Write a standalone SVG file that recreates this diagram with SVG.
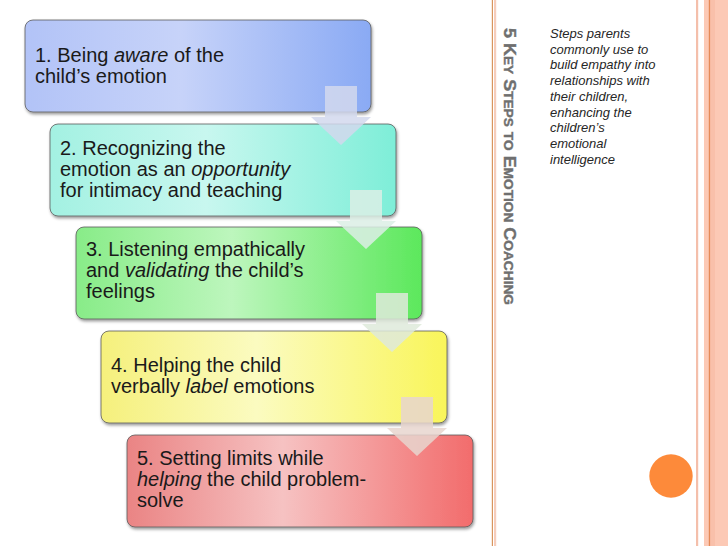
<svg xmlns="http://www.w3.org/2000/svg" width="728" height="546" viewBox="0 0 728 546">
<defs>
<style>
.box{stroke:#5a5a5a;stroke-width:0.8;filter:url(#sh)}
.bt{font-family:"Liberation Sans",Arial,sans-serif;font-size:20px;fill:#1a1a1a}
.side{font-family:"Liberation Sans",Arial,sans-serif;font-size:13px;font-style:italic;fill:#262626}
.arr{opacity:0.85}
</style>
<filter id="sh" x="-5%" y="-10%" width="110%" height="130%">
<feDropShadow dx="1" dy="2" stdDeviation="1.5" flood-color="#000" flood-opacity="0.4"/>
</filter>
<linearGradient id="g1" x1="0" y1="0" x2="1" y2="0">
<stop offset="0" stop-color="#b2c3f7"/><stop offset="0.45" stop-color="#c7d3f9"/><stop offset="1" stop-color="#8aaaf4"/>
</linearGradient>
<linearGradient id="g2" x1="0" y1="0" x2="1" y2="0">
<stop offset="0" stop-color="#a3f1e2"/><stop offset="0.45" stop-color="#c8f7ef"/><stop offset="1" stop-color="#7eeed8"/>
</linearGradient>
<linearGradient id="g3" x1="0" y1="0" x2="1" y2="0">
<stop offset="0" stop-color="#88ec88"/><stop offset="0.45" stop-color="#bdf6bd"/><stop offset="1" stop-color="#5ce85c"/>
</linearGradient>
<linearGradient id="g4" x1="0" y1="0" x2="1" y2="0">
<stop offset="0" stop-color="#f5f07c"/><stop offset="0.45" stop-color="#fbfbc0"/><stop offset="1" stop-color="#f9f55a"/>
</linearGradient>
<linearGradient id="g5" x1="0" y1="0" x2="1" y2="0">
<stop offset="0" stop-color="#ea8484"/><stop offset="0.45" stop-color="#f6c2c2"/><stop offset="1" stop-color="#f26c6c"/>
</linearGradient>
</defs>
<rect width="728" height="546" fill="#fff"/>

<!-- decorative borders -->
<rect x="491.8" y="0" width="1.2" height="546" fill="#d8955e"/>
<rect x="494" y="0" width="2.2" height="546" fill="#f6cdbb"/>
<rect x="696" y="0" width="2.2" height="546" fill="#f4bfab"/>
<rect x="704" y="0" width="24" height="546" fill="#fcc9b5"/>
<rect x="710" y="0" width="5" height="546" fill="#f9c0aa"/>
<rect x="708.8" y="0" width="1.3" height="546" fill="#e58a58"/>
<circle cx="671" cy="476" r="21.7" fill="#fd8a3a"/>

<g id="node1">
<rect class="box" x="25" y="20" width="346" height="92" rx="8" fill="url(#g1)"/>
<text class="bt" x="35" y="62">1. Being <tspan font-style="italic">aware</tspan> of the</text>
<text class="bt" x="35" y="83">child’s emotion</text>
</g>
<g id="node2">
<rect class="box" x="50" y="124" width="346" height="92" rx="8" fill="url(#g2)"/>
<text class="bt" x="60" y="155">2. Recognizing the</text>
<text class="bt" x="60" y="176">emotion as an <tspan font-style="italic">opportunity</tspan></text>
<text class="bt" x="60" y="197">for intimacy and teaching</text>
</g>
<g id="node3">
<rect class="box" x="76" y="227" width="346" height="92" rx="8" fill="url(#g3)"/>
<text class="bt" x="86" y="256">3. Listening empathically</text>
<text class="bt" x="86" y="277">and <tspan font-style="italic">validating</tspan> the child’s</text>
<text class="bt" x="86" y="298">feelings</text>
</g>
<g id="node4">
<rect class="box" x="101" y="331" width="346" height="92" rx="8" fill="url(#g4)"/>
<text class="bt" x="111" y="372">4. Helping the child</text>
<text class="bt" x="111" y="393">verbally <tspan font-style="italic">label</tspan> emotions</text>
</g>
<g id="node5">
<rect class="box" x="127" y="435" width="346" height="92" rx="8" fill="url(#g5)"/>
<text class="bt" x="137" y="465">5. Setting limits while</text>
<text class="bt" x="137" y="486"><tspan font-style="italic">helping</tspan> the child problem-</text>
<text class="bt" x="137" y="507">solve</text>
</g>

<g id="connectors" class="arr">
<path d="M325 86H357V117H371L341 145L311 117H325Z" fill="#d3d9ee"/>
<path d="M350 190H382V221H396L366 249L336 221H350Z" fill="#dcefe6"/>
<path d="M376 293H408V324H422L392 352L362 324H376Z" fill="#dfeadb"/>
<path d="M401 397H433V428H447L417 456L387 428H401Z" fill="#e8d6cf"/>
</g>

<g id="title">
<text transform="translate(504,28) rotate(90)" font-family="'Liberation Sans',Arial,sans-serif" font-weight="bold" font-size="17" fill="#6f6f6f" stroke="#6f6f6f" stroke-width="0.4" textLength="277" lengthAdjust="spacingAndGlyphs">5 K<tspan font-size="13">EY</tspan> S<tspan font-size="13">TEPS</tspan> <tspan font-size="13">TO</tspan> E<tspan font-size="13">MOTION</tspan> C<tspan font-size="13">OACHING</tspan></text>
</g>

<g id="sidetext">
<text class="side" x="550" y="38">Steps parents</text>
<text class="side" x="550" y="53.7">commonly use to</text>
<text class="side" x="550" y="69.4">build empathy into</text>
<text class="side" x="550" y="85.1">relationships with</text>
<text class="side" x="550" y="100.8">their children,</text>
<text class="side" x="550" y="116.5">enhancing the</text>
<text class="side" x="550" y="132.2">children’s</text>
<text class="side" x="550" y="147.9">emotional</text>
<text class="side" x="550" y="163.6">intelligence</text>
</g>
</svg>
